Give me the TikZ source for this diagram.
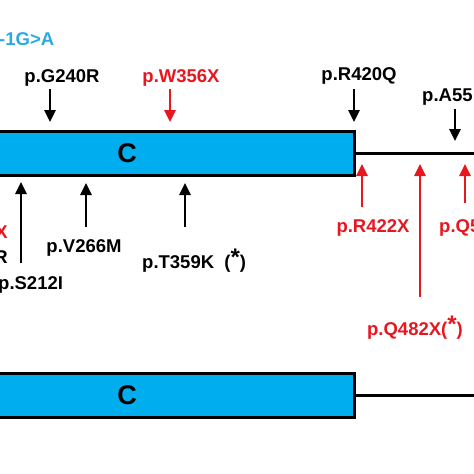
\documentclass[tikz,border=0pt]{standalone}
\usepackage{fontspec}
\setmainfont{Liberation Sans}
\usetikzlibrary{arrows.meta}
\definecolor{boxcyan}{RGB}{0,174,239}
\definecolor{lblblue}{RGB}{41,171,226}
\definecolor{mutred}{RGB}{232,22,30}
\newcommand{\bigstar}{\raisebox{3pt}{\fontsize{24}{24}\selectfont *}}
\tikzset{
  lbl/.style={font=\fontsize{18.5}{21}\selectfont\bfseries, inner sep=0pt},
  redlbl/.style={lbl, text=mutred},
  mut/.style={line width=2.6pt, -{Triangle[length=12pt,width=11pt]}},
  redmut/.style={mut, draw=mutred},
  protbox/.style={draw=black, line width=3pt, fill=boxcyan},
  strand/.style={draw=black, line width=3pt},
  dlabel/.style={font=\fontsize{27}{30}\selectfont\bfseries, inner sep=0pt}
}
\begin{document}
\begin{tikzpicture}[x=1pt,y=-1pt]
\useasboundingbox (0,0) rectangle (474,474);
\clip (0,0) rectangle (474,474);
% top protein
\draw[strand] (354,153) -- (490,153);
\draw[protbox] (-20,131) rectangle (354,175);
\node[dlabel] (c1) at (127,153) {C};
% bottom protein
\draw[strand] (354,395) -- (490,395);
\draw[protbox] (-20,373) rectangle (354,417);
\node[dlabel] (c2) at (127,395) {C};
% labels above
\node[lbl, text=lblblue, anchor=west] (splice) at (-1,39) {-1G>A};
\node[lbl] (g240) at (62,78) {p.G240R};
\node[redlbl] (w356) at (181,78) {p.W356X};
\node[lbl] (r420) at (359,76) {p.R420Q};
\node[lbl, anchor=west] (a55) at (422,97) {p.A55};
% labels below
\node[redlbl, anchor=east] (xcut) at (8,232) {X};
\node[lbl, anchor=east] (rcut) at (8,257) {R};
\node[lbl, anchor=west] (s212) at (-2,285) {p.S212I};
\node[lbl] (v266) at (84,248) {p.V266M};
\node[lbl, anchor=west] (t359) at (142,261) {p.T359K\ \ (\bigstar)};
\node[redlbl] (r422) at (373,228) {p.R422X};
\node[redlbl, anchor=west] (q5) at (439,228) {p.Q5};
\node[redlbl] (q482) at (415,328) {p.Q482X(\bigstar)};
% arrow coordinates
\coordinate (g240s) at (50,89);   \coordinate (g240e) at (50,122);
\coordinate (w356s) at (170,89);  \coordinate (w356e) at (170,122);
\coordinate (r420s) at (354,89);  \coordinate (r420e) at (354,122);
\coordinate (a55s) at (455,109);  \coordinate (a55e) at (455,141);
\coordinate (s212s) at (21,263);  \coordinate (s212e) at (21,182);
\coordinate (v266s) at (86,227);  \coordinate (v266e) at (86,183);
\coordinate (t359s) at (185,227); \coordinate (t359e) at (185,183);
\coordinate (r422s) at (362,207); \coordinate (r422e) at (362,164);
\coordinate (q482s) at (420,297); \coordinate (q482e) at (420,164);
\coordinate (q5s) at (465,203);   \coordinate (q5e) at (465,164);
\draw[mut] (g240s) -- (g240e);
\draw[redmut] (w356s) -- (w356e);
\draw[mut] (r420s) -- (r420e);
\draw[mut] (a55s) -- (a55e);
\draw[mut] (s212s) -- (s212e);
\draw[mut] (v266s) -- (v266e);
\draw[mut] (t359s) -- (t359e);
\draw[redmut] (r422s) -- (r422e);
\draw[redmut] (q482s) -- (q482e);
\draw[redmut] (q5s) -- (q5e);
\end{tikzpicture}
\end{document}
